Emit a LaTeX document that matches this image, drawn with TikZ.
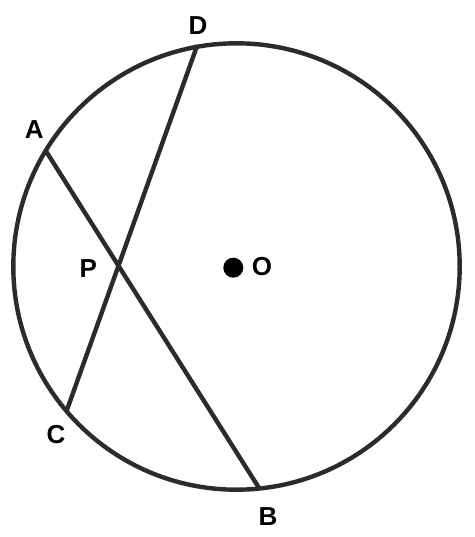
\documentclass[tikz,border=0pt]{standalone}
\usepackage{fontspec}
\setmainfont{Liberation Sans}
\begin{document}
\begin{tikzpicture}[x=1pt,y=-1pt,
  stroke/.style={draw=black!83,line width=4.4pt},
  lbl/.style={font=\fontsize{26}{26}\selectfont\bfseries,text=black,inner sep=0pt}]
\useasboundingbox (0,0) rectangle (474,537);
\coordinate (O) at (236.5,266.5);
\coordinate (A) at (45.7,150.7);
\coordinate (B) at (260,489.5);
\coordinate (C) at (66.7,410.7);
\coordinate (D) at (197.3,45.2);
\draw[stroke] (O) circle[radius=223.2];
\draw[stroke] (A) -- (B);
\draw[stroke] (C) -- (D);
\fill[black] (233.3,267.7) circle[radius=10];
\node[lbl] (lA) at (34.3,130) {A};
\node[lbl] (lB) at (268,517) {B};
\node[lbl] (lC) at (56,435) {C};
\node[lbl] (lD) at (198,25.5) {D};
\node[lbl] (lP) at (88.3,269) {P};
\node[lbl] (lO) at (262,267) {O};
\end{tikzpicture}
\end{document}
